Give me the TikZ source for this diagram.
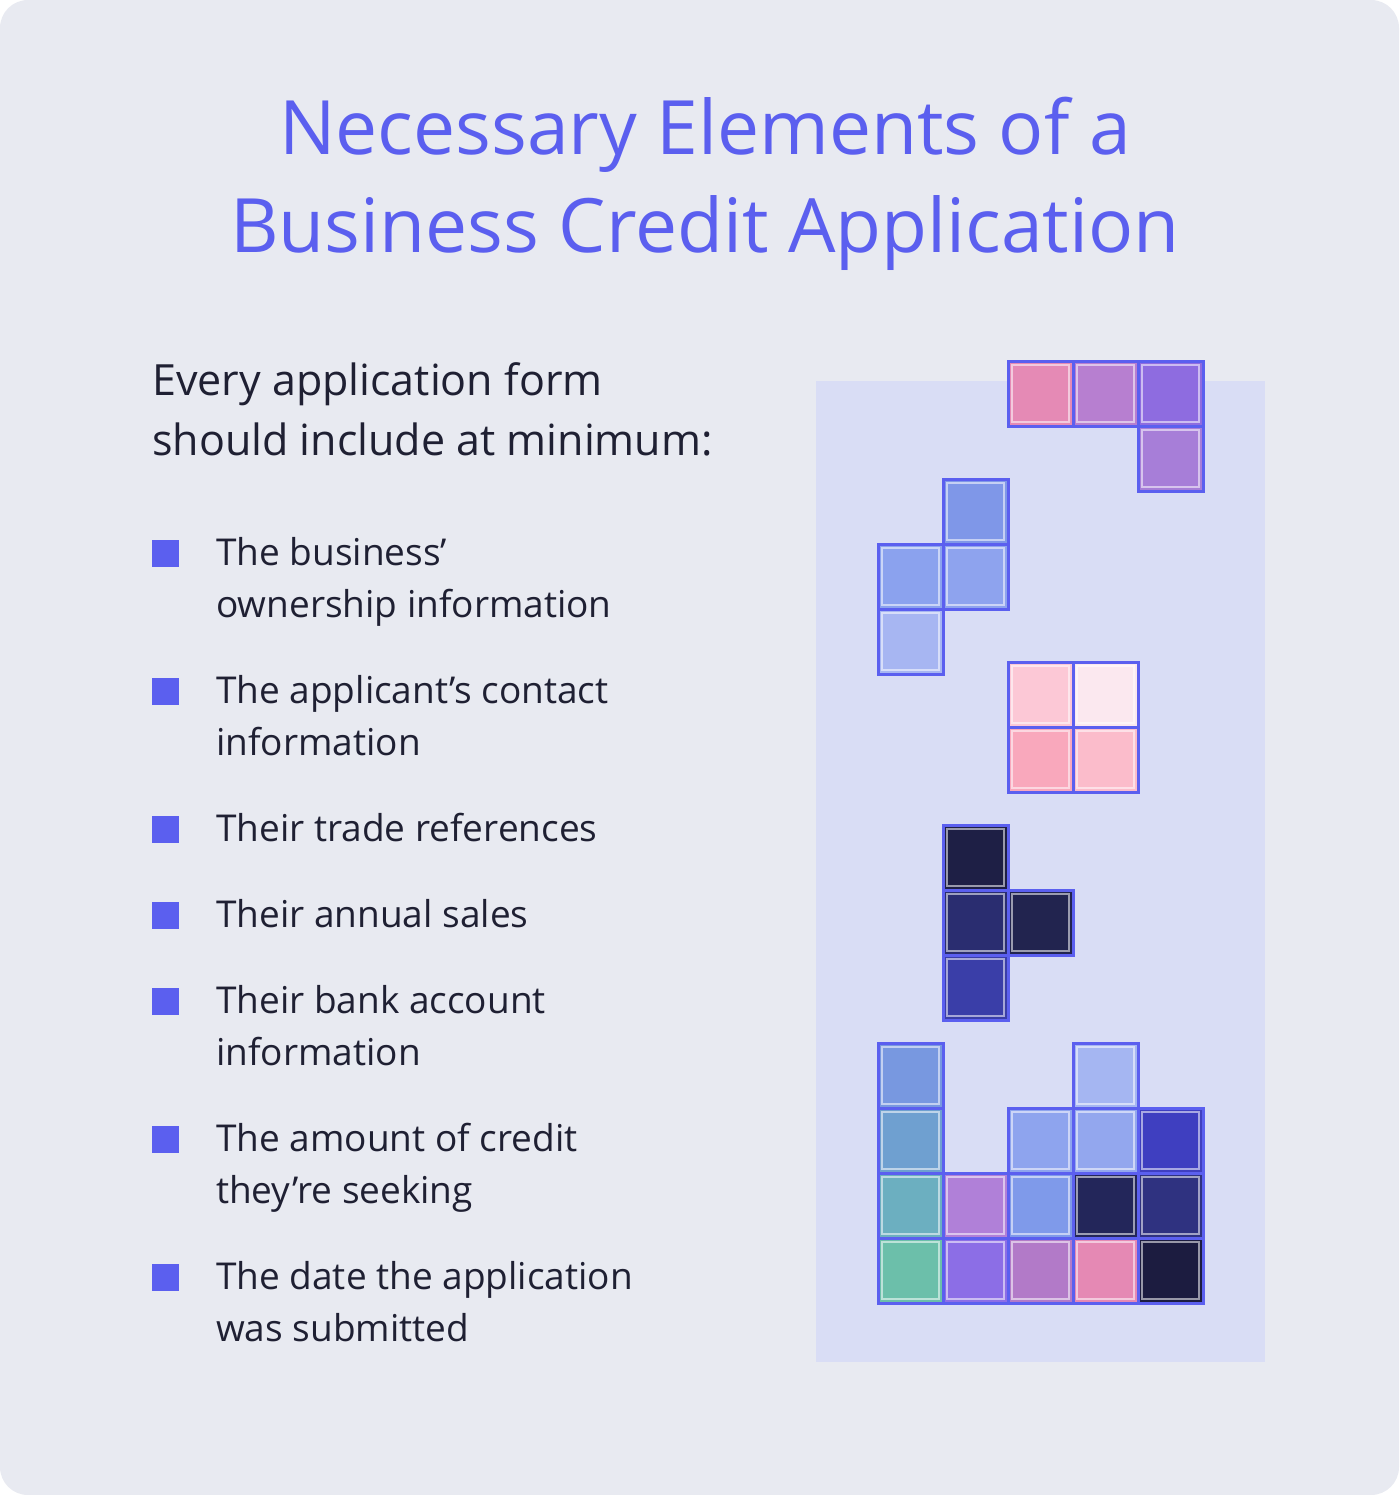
\documentclass[tikz,border=0pt]{standalone}
\usepackage{fontspec}
\setmainfont{Open Sans}
\definecolor{pagebg}{HTML}{E8EAF1}
\definecolor{panel}{HTML}{D9DDF5}
\definecolor{accent}{HTML}{5B5FEF}
\definecolor{ink}{HTML}{1F2033}
\begin{document}
\begin{tikzpicture}[x=1pt,y=-1pt,
  txt/.style={anchor=base west,inner sep=0pt,text=ink,font=\fontsize{37}{52}\selectfont,align=left},
  bul/.style={fill=accent,minimum width=27pt,minimum height=27pt,inner sep=0pt}]
\fill[white] (0,0) rectangle (1399,1495);
\fill[pagebg,rounded corners=28pt] (0,0) rectangle (1399,1495);
\fill[panel] (816,381) rectangle (1265,1362);
\node[text=accent,font=\fontsize{75}{98}\selectfont,align=center,inner sep=0pt,anchor=base] (title) at (705,253) {Necessary Elements of a\\Business Credit Application};
\node[txt,font=\fontsize{43}{60}\selectfont] (intro) at (152,455) {Every application form\\should include at minimum:};
\foreach \y/\t/\n in {
  553/{The business’\\ownership information}/1,
  691/{The applicant’s contact\\information}/1,
  829/{Their trade references}/0,
  915/{Their annual sales}/0,
  1001/{Their bank account\\information}/1,
  1139/{The amount of credit\\they’re seeking}/1,
  1277/{The date the application\\was submitted}/1}{
  \node[bul] (b\y) at (165,\y) {};
  \node[txt] (t\y) at (216,\y+12+52*\n) {\t};
}
\newcommand{\cell}[3]{%
  \fill[#3] (#1,#2) rectangle ++(65,65);
  \draw[white,opacity=0.55,line width=2pt] (#1+4,#2+4) rectangle ++(57,57);
  \draw[accent,line width=3pt] (#1,#2) rectangle ++(65,65);}
\foreach \x/\y/\c in {1008/361/E58AB5,1073/361/B77FD0,1138/361/8E6CE0,1138/426/A77ED8,
  943/479/7F97E8,878/544/8BA2EE,943/544/8EA3EE,878/609/A7B6F2,
  1008/662/FCC8D6,1073/662/FBE8EF,1008/727/F9A8BC,1073/727/FBBCCB,
  943/825/1E1F45,943/890/2A2D70,1008/890/22244F,943/955/3A3EA8,
  878/1043/7898E0,878/1108/6FA0D0,878/1173/6CAFC0,878/1238/6CBFAA,
  943/1173/B080D8,943/1238/8C6EE6,
  1008/1108/8EA4EE,1008/1173/7F9AEA,1008/1238/B27AC8,
  1073/1043/A5B6F2,1073/1108/93A7EE,1073/1173/23265A,1073/1238/E589B4,
  1138/1108/3F3FC0,1138/1173/2F3280,1138/1238/1C1C40}{
  \definecolor{cc}{HTML}{\c}\cell{\x}{\y}{cc}}
\end{tikzpicture}
\end{document}
